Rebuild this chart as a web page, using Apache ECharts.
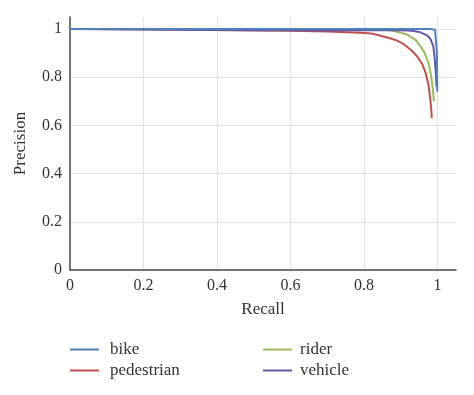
<!DOCTYPE html>
<html><head><meta charset="utf-8">
<script src="https://cdn.jsdelivr.net/npm/echarts@6/dist/echarts.min.js"></script>
<style>html,body{margin:0;padding:0;background:#fff}#c{width:474px;height:395px}</style>
</head><body><div id="c"></div>
<script>
const seriesNames = ['bike', 'pedestrian', 'rider', 'vehicle'];
const xTicks = [0, 0.2, 0.4, 0.6, 0.8, 1];
const yTicks = [0, 0.2, 0.4, 0.6, 0.8, 1];

const bikeRecall = [0, 0.5, 0.98, 0.993, 0.997, 0.998, 0.999];
const bikePrecision = [1.0, 1.0, 1.0, 0.997, 0.99, 0.9, 0.74];

const pedestrianRecall = [0, 0.3, 0.6, 0.7, 0.79, 0.82, 0.845, 0.87, 0.89, 0.91, 0.93, 0.945, 0.958, 0.967, 0.975, 0.98, 0.983, 0.984];
const pedestrianPrecision = [1.0, 0.997, 0.993, 0.99, 0.985, 0.982, 0.972, 0.962, 0.952, 0.935, 0.91, 0.885, 0.855, 0.82, 0.77, 0.71, 0.66, 0.63];

const riderRecall = [0, 0.6, 0.85, 0.88, 0.9, 0.92, 0.94, 0.955, 0.965, 0.975, 0.982, 0.987, 0.99];
const riderPrecision = [1.0, 1.0, 0.998, 0.993, 0.985, 0.975, 0.955, 0.925, 0.9, 0.86, 0.81, 0.75, 0.70];

const vehicleRecall = [0, 0.04, 0.042, 0.5, 0.9, 0.93, 0.95, 0.97, 0.98, 0.988, 0.992, 0.995, 0.997];
const vehiclePrecision = [1.0, 1.0, 0.994, 0.995, 0.995, 0.993, 0.988, 0.975, 0.96, 0.93, 0.88, 0.82, 0.76];

const colors = { bike: '#4F81BD', pedestrian: '#C0504D', rider: '#9BBB59', vehicle: '#5E5BA6' };
const pairs = (xs, ys) => xs.map((x, i) => [x, ys[i]]);
const dataMap = {
  bike: pairs(bikeRecall, bikePrecision),
  pedestrian: pairs(pedestrianRecall, pedestrianPrecision),
  rider: pairs(riderRecall, riderPrecision),
  vehicle: pairs(vehicleRecall, vehiclePrecision)
};
const font = 'Liberation Serif, DejaVu Serif, serif';
const fmt = v => (xTicks.some(t => Math.abs(t - v) < 1e-9) ? String(Math.round(v * 10) / 10) : '');

const chart = echarts.init(document.getElementById('c'), null, { renderer: 'canvas' });
chart.setOption({
  animation: false,
  backgroundColor: '#fff',
  grid: { left: 70, right: 18, top: 17, bottom: 125 },
  xAxis: {
    type: 'value', min: 0, max: 1.05, interval: 0.2,
    name: 'Recall', nameLocation: 'middle', nameGap: 31,
    nameTextStyle: { fontFamily: font, fontSize: 17, color: '#333' },
    axisLine: { show: true, lineStyle: { color: '#444', width: 1.5 } },
    axisTick: { show: false },
    axisLabel: { fontFamily: font, fontSize: 16, color: '#333', margin: 8, formatter: fmt, showMaxLabel: false },
    splitLine: { show: true, showMaxLine: false, showMinLine: false, lineStyle: { color: '#e2e2e2', width: 1 } }
  },
  yAxis: {
    type: 'value', min: 0, max: 1.05, interval: 0.2,
    name: 'Precision', nameLocation: 'middle', nameGap: 41, nameRotate: 90,
    nameTextStyle: { fontFamily: font, fontSize: 17, color: '#333' },
    axisLine: { show: true, lineStyle: { color: '#444', width: 1.5 } },
    axisTick: { show: false },
    axisLabel: { fontFamily: font, fontSize: 16, color: '#333', margin: 8, formatter: fmt, showMaxLabel: false },
    splitLine: { show: true, showMaxLine: false, showMinLine: false, lineStyle: { color: '#e2e2e2', width: 1 } }
  },
  legend: [
    { data: ['bike', 'pedestrian'], orient: 'vertical', left: 65, top: 336, itemGap: 4,
      icon: 'rect', itemWidth: 29, itemHeight: 2,
      textStyle: { fontFamily: font, fontSize: 17, color: '#333', padding: [0, 0, 0, 6] } },
    { data: ['rider', 'vehicle'], orient: 'vertical', left: 258, top: 336, itemGap: 4,
      icon: 'rect', itemWidth: 29, itemHeight: 2,
      textStyle: { fontFamily: font, fontSize: 17, color: '#333', padding: [0, 0, 0, 3] } }
  ],
  series: ['pedestrian', 'rider', 'vehicle', 'bike'].map(n => ({
    name: n, type: 'line', data: dataMap[n], symbol: 'none', smooth: false,
    color: colors[n], lineStyle: { width: 2, color: colors[n] }
  }))
});
</script></body></html>
